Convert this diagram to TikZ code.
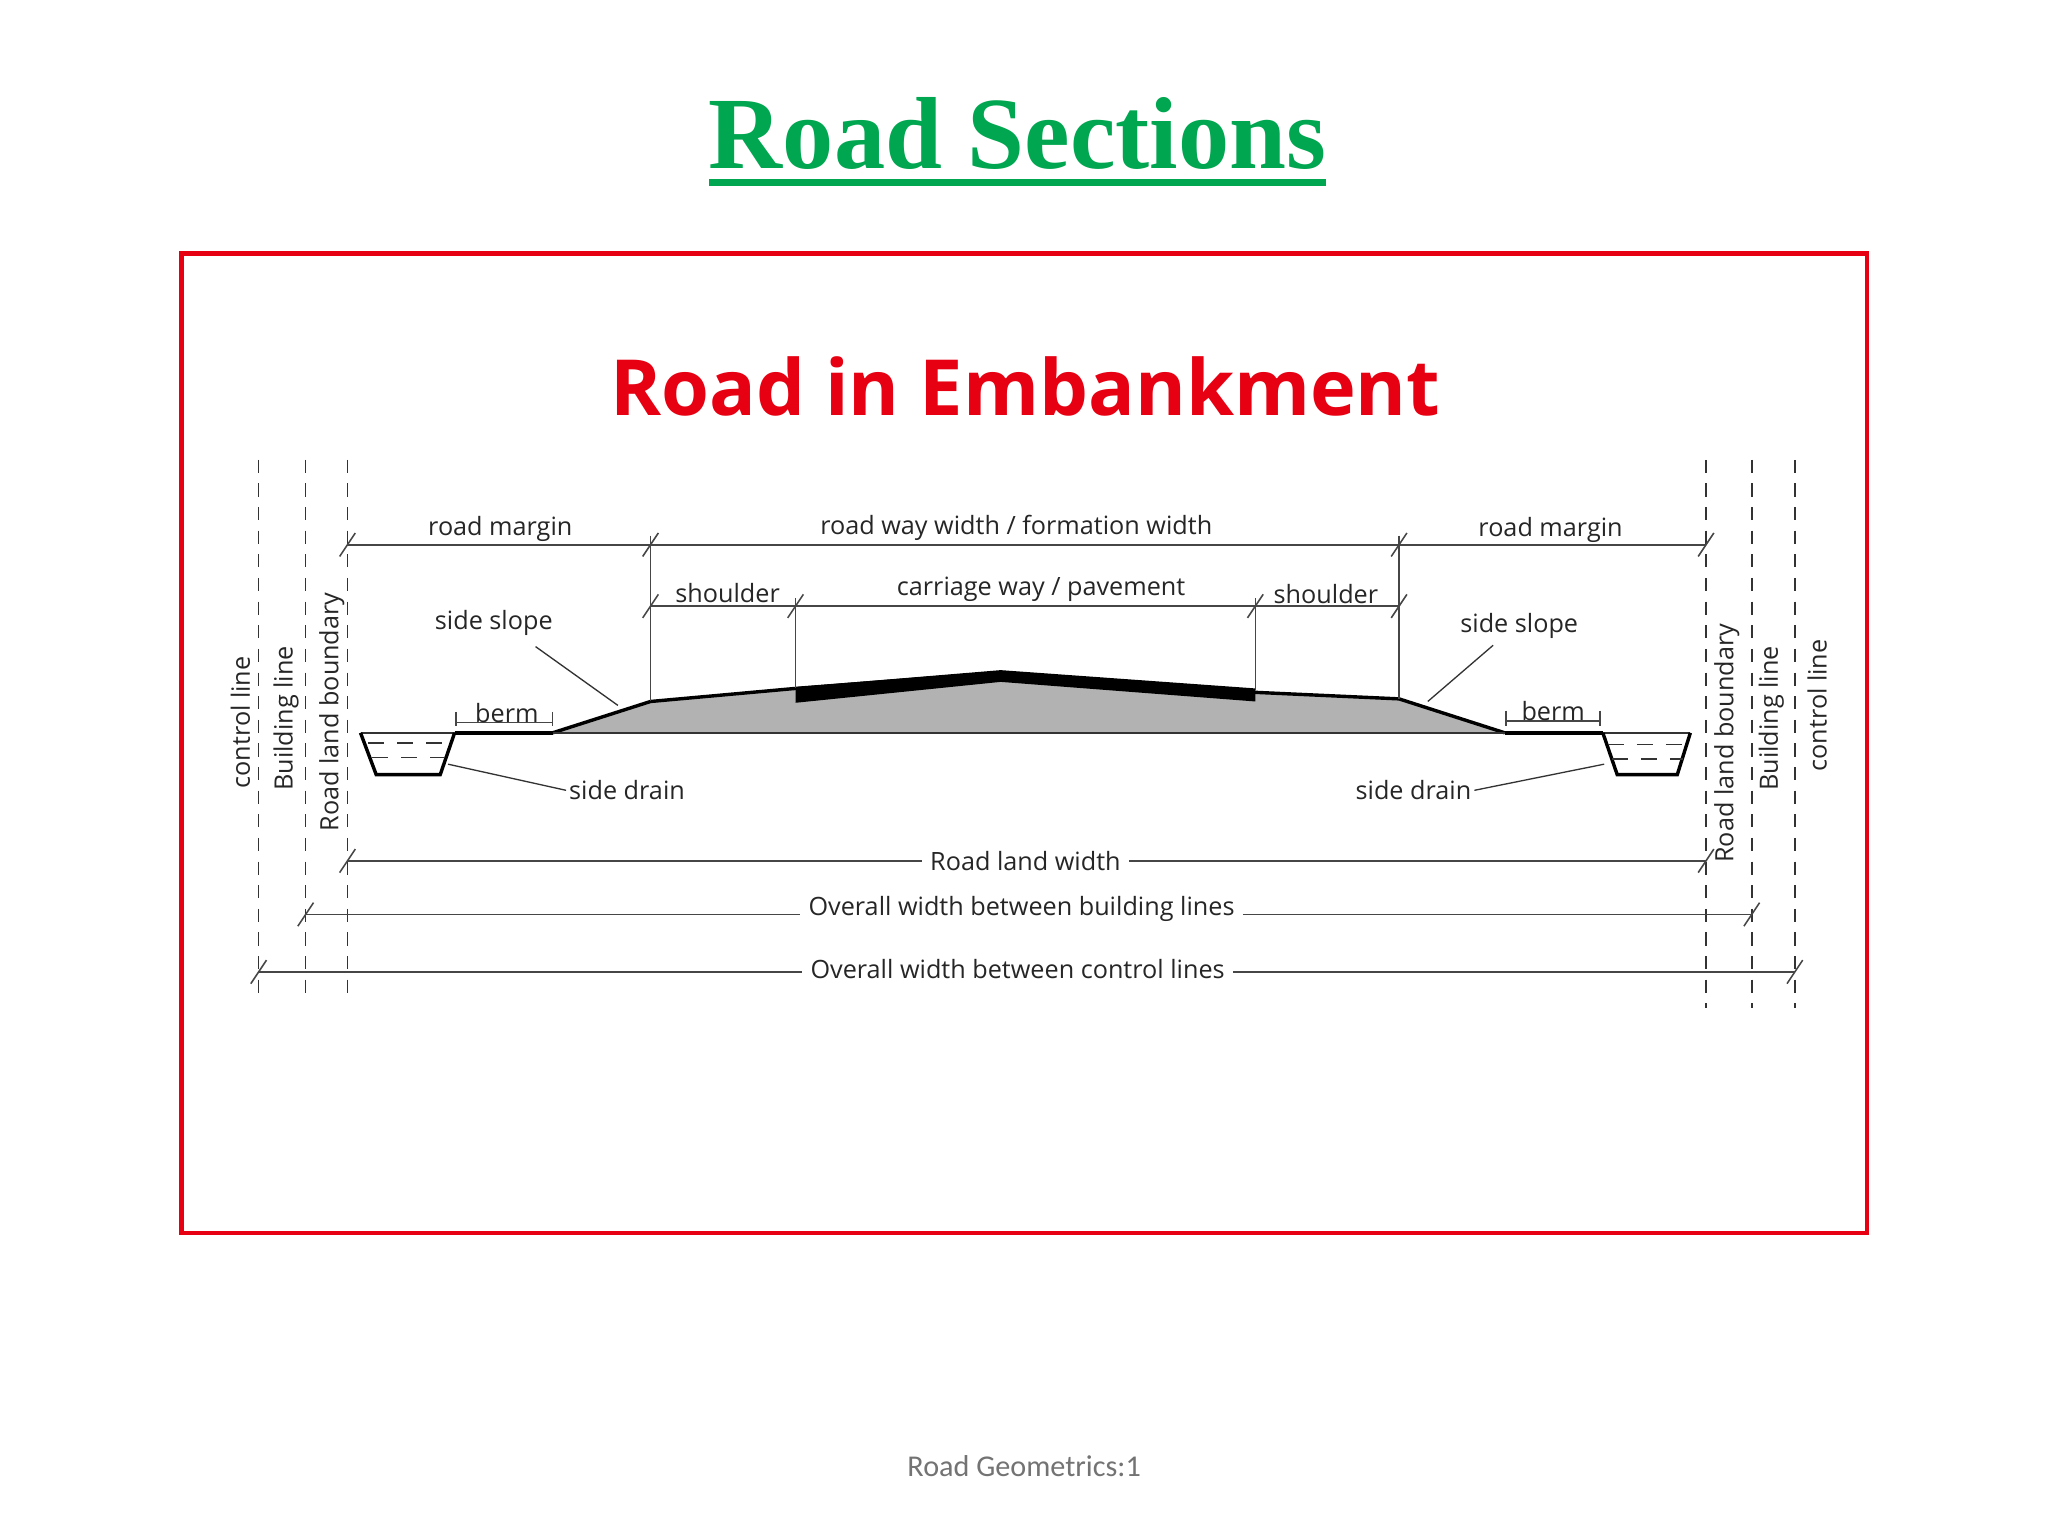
\documentclass[tikz,border=0pt]{standalone}
\usepackage{fontspec}
\setmainfont{Open Sans}
\newfontfamily\serifb{Liberation Serif}
\newfontfamily\carl{Carlito}
\newfontfamily\osb{Open Sans}
\definecolor{tgreen}{RGB}{0,166,80}
\definecolor{tred}{RGB}{230,0,18}
\definecolor{dimc}{RGB}{70,70,70}
\begin{document}
\begin{tikzpicture}[x=0.4975pt,y=-0.4975pt,
  lbl/.style={font=\fontsize{9.6}{11}\selectfont, text=black!85, inner sep=1pt},
  vlbl/.style={lbl, rotate=90},
  dimln/.style={draw=dimc, line width=0.6pt},
  vdash/.style={draw=black!80, line width=0.6pt, dash pattern=on 5pt off 4pt},
  leader/.style={draw=black!80, line width=0.5pt},
  thick3/.style={draw=black, line width=1.3pt}]
\useasboundingbox (0,0) rectangle (1567.8,1175.9);
\fill[white] (0,0) rectangle (1567.8,1175.9);
% title
\node[font=\serifb\bfseries\fontsize{39}{44}\selectfont, text=tgreen] (title) at (779,102) {Road Sections};
\draw[tgreen, line width=2.6pt] (543,140) -- (1015,140);
% frame
\draw[tred, line width=1.6pt] (139,194) rectangle (1429,944) ;
\node[font=\osb\bfseries\fontsize{29.5}{34}\selectfont, text=tred] (sub) at (785,296) {Road in Embankment};
% vertical dashed lines
\foreach \n/\x/\b in {cl/198/768, bl/234/768, rb/266/768, rbr/1306/772, blr/1341/772, clr/1374/772}{
  \coordinate (\n t) at (\x,352); \coordinate (\n b) at (\x,\b);
  \draw[vdash] (\n t) -- (\n b);}
\node[vlbl] (lcl) at (184,553) {control line};
\node[vlbl] (lbl) at (219,550) {Building line};
\node[vlbl] (lrb) at (254,545) {Road land boundary};
\node[vlbl] (rrb) at (1322,569) {Road land boundary};
\node[vlbl] (rbl) at (1356,550) {Building line};
\node[vlbl] (rcl) at (1391,540) {control line};
% tick style
\tikzset{tk/.pic={\draw[dimc,line width=0.6pt] (-6,9) -- (6,-9);}}
% dimension line 1
\coordinate (a1) at (266,417); \coordinate (a2) at (498,417);
\coordinate (a3) at (1071,417); \coordinate (a4) at (1306,417);
\draw[dimln] (a1) -- (a4);
\foreach \p in {a1,a2,a3,a4} \pic at (\p) {tk};
\node[lbl] (rm1) at (383,405) {road margin};
\node[lbl] (rw) at (778,404) {road way width / formation width};
\node[lbl] (rm2) at (1187,406) {road margin};
% dimension line 2
\coordinate (b1) at (498,464); \coordinate (b2) at (609,464);
\coordinate (b3) at (961,464); \coordinate (b4) at (1071,464);
\draw[dimln] (b1) -- (b4);
\foreach \p in {b1,b2,b3,b4} \pic at (\p) {tk};
\node[lbl] (sh1) at (557,454) {shoulder};
\node[lbl] (cw) at (797,451) {carriage way / pavement};
\node[lbl] (sh2) at (1015,455) {shoulder};
% embankment
\coordinate (e0) at (423,561); \coordinate (e1) at (498,537);
\coordinate (e2) at (609,527); \coordinate (e3) at (766,515);
\coordinate (e4) at (961,530); \coordinate (e5) at (1071,535);
\coordinate (e6) at (1152,561);
\fill[black!30] (e0) -- (e1) -- (e2) -- (e3) -- (e4) -- (e5) -- (e6) -- cycle;
\draw[thick3] (e0) -- (e1) -- (e2) -- (e3) -- (e4) -- (e5) -- (e6);
\fill[black] (609,526) -- (766,513) -- (961,527) -- (961,537) -- (766,522) -- (609,538) -- cycle;
% vertical extension lines
\draw[dimln] (498,410) -- (e1);
\draw[dimln] (609,458) -- (e2);
\draw[dimln] (961,458) -- (961,528);
\draw[dimln] (1071,410) -- (e5);
% ground
\draw[draw=black!80, line width=0.6pt] (276,561) -- (1294,561);
\draw[thick3] (348,561) -- (e0);
\draw[thick3] (e6) -- (1227,561);
% drains
\draw[thick3] (276,561) -- (288,593) -- (337,593) -- (348,561);
\draw[black!80, line width=0.6pt, dash pattern=on 6pt off 5pt] (282,569) -- (345,569) (285,580) -- (341,580);
\draw[thick3] (1227,561) -- (1238,593) -- (1284,593) -- (1294,561);
\draw[black!80, line width=0.6pt, dash pattern=on 6pt off 5pt] (1231,570) -- (1291,570) (1234,581) -- (1288,581);
% berms
\draw[dimln] (349,545) -- (349,556) (349,553) -- (423,553) (423,545) -- (423,556);
\node[lbl] (bm1) at (388,546) {berm};
\draw[dimln] (1153,544) -- (1153,556) (1153,552) -- (1225,552) (1225,544) -- (1225,556);
\node[lbl] (bm2) at (1189,544) {berm};
% side slope / drain labels
\node[lbl] (ss1) at (378,477) {side slope};
\draw[leader] (410,495) -- (473,540);
\node[lbl] (ss2) at (1163,479) {side slope};
\draw[leader] (1143,494) -- (1093,537);
\node[lbl] (sd1) at (480,605) {side drain};
\draw[leader] (343,585) -- (sd1.west);
\node[lbl] (sd2) at (1082,605) {side drain};
\draw[leader] (sd2.east) -- (1228,585);
% overall dims
\coordinate (c1) at (266,659); \coordinate (c2) at (1306,659);
\node[lbl, fill=white, inner xsep=3pt] (rlw) at (785,659) {Road land width};
\draw[dimln] (c1) -- (rlw.west) (rlw.east) -- (c2);
\pic at (c1) {tk}; \pic at (c2) {tk};
\coordinate (d1) at (234,700); \coordinate (d2) at (1341,700);
\node[lbl, fill=white, inner xsep=3pt] (owb) at (782,696) {Overall width between building lines};
\draw[dimln] (d1) -- (owb.west |- d1) (owb.east |- d2) -- (d2);
\pic at (d1) {tk}; \pic at (d2) {tk};
\coordinate (f1) at (198,744); \coordinate (f2) at (1374,744);
\node[lbl, fill=white, inner xsep=3pt] (owc) at (779,742) {Overall width between control lines};
\draw[dimln] (f1) -- (owc.west |- f1) (owc.east |- f2) -- (f2);
\pic at (f1) {tk}; \pic at (f2) {tk};
% footer
\node[font=\carl\fontsize{11.5}{13}\selectfont, text=black!55] (foot) at (784,1122) {Road Geometrics:1};
\end{tikzpicture}
\end{document}
